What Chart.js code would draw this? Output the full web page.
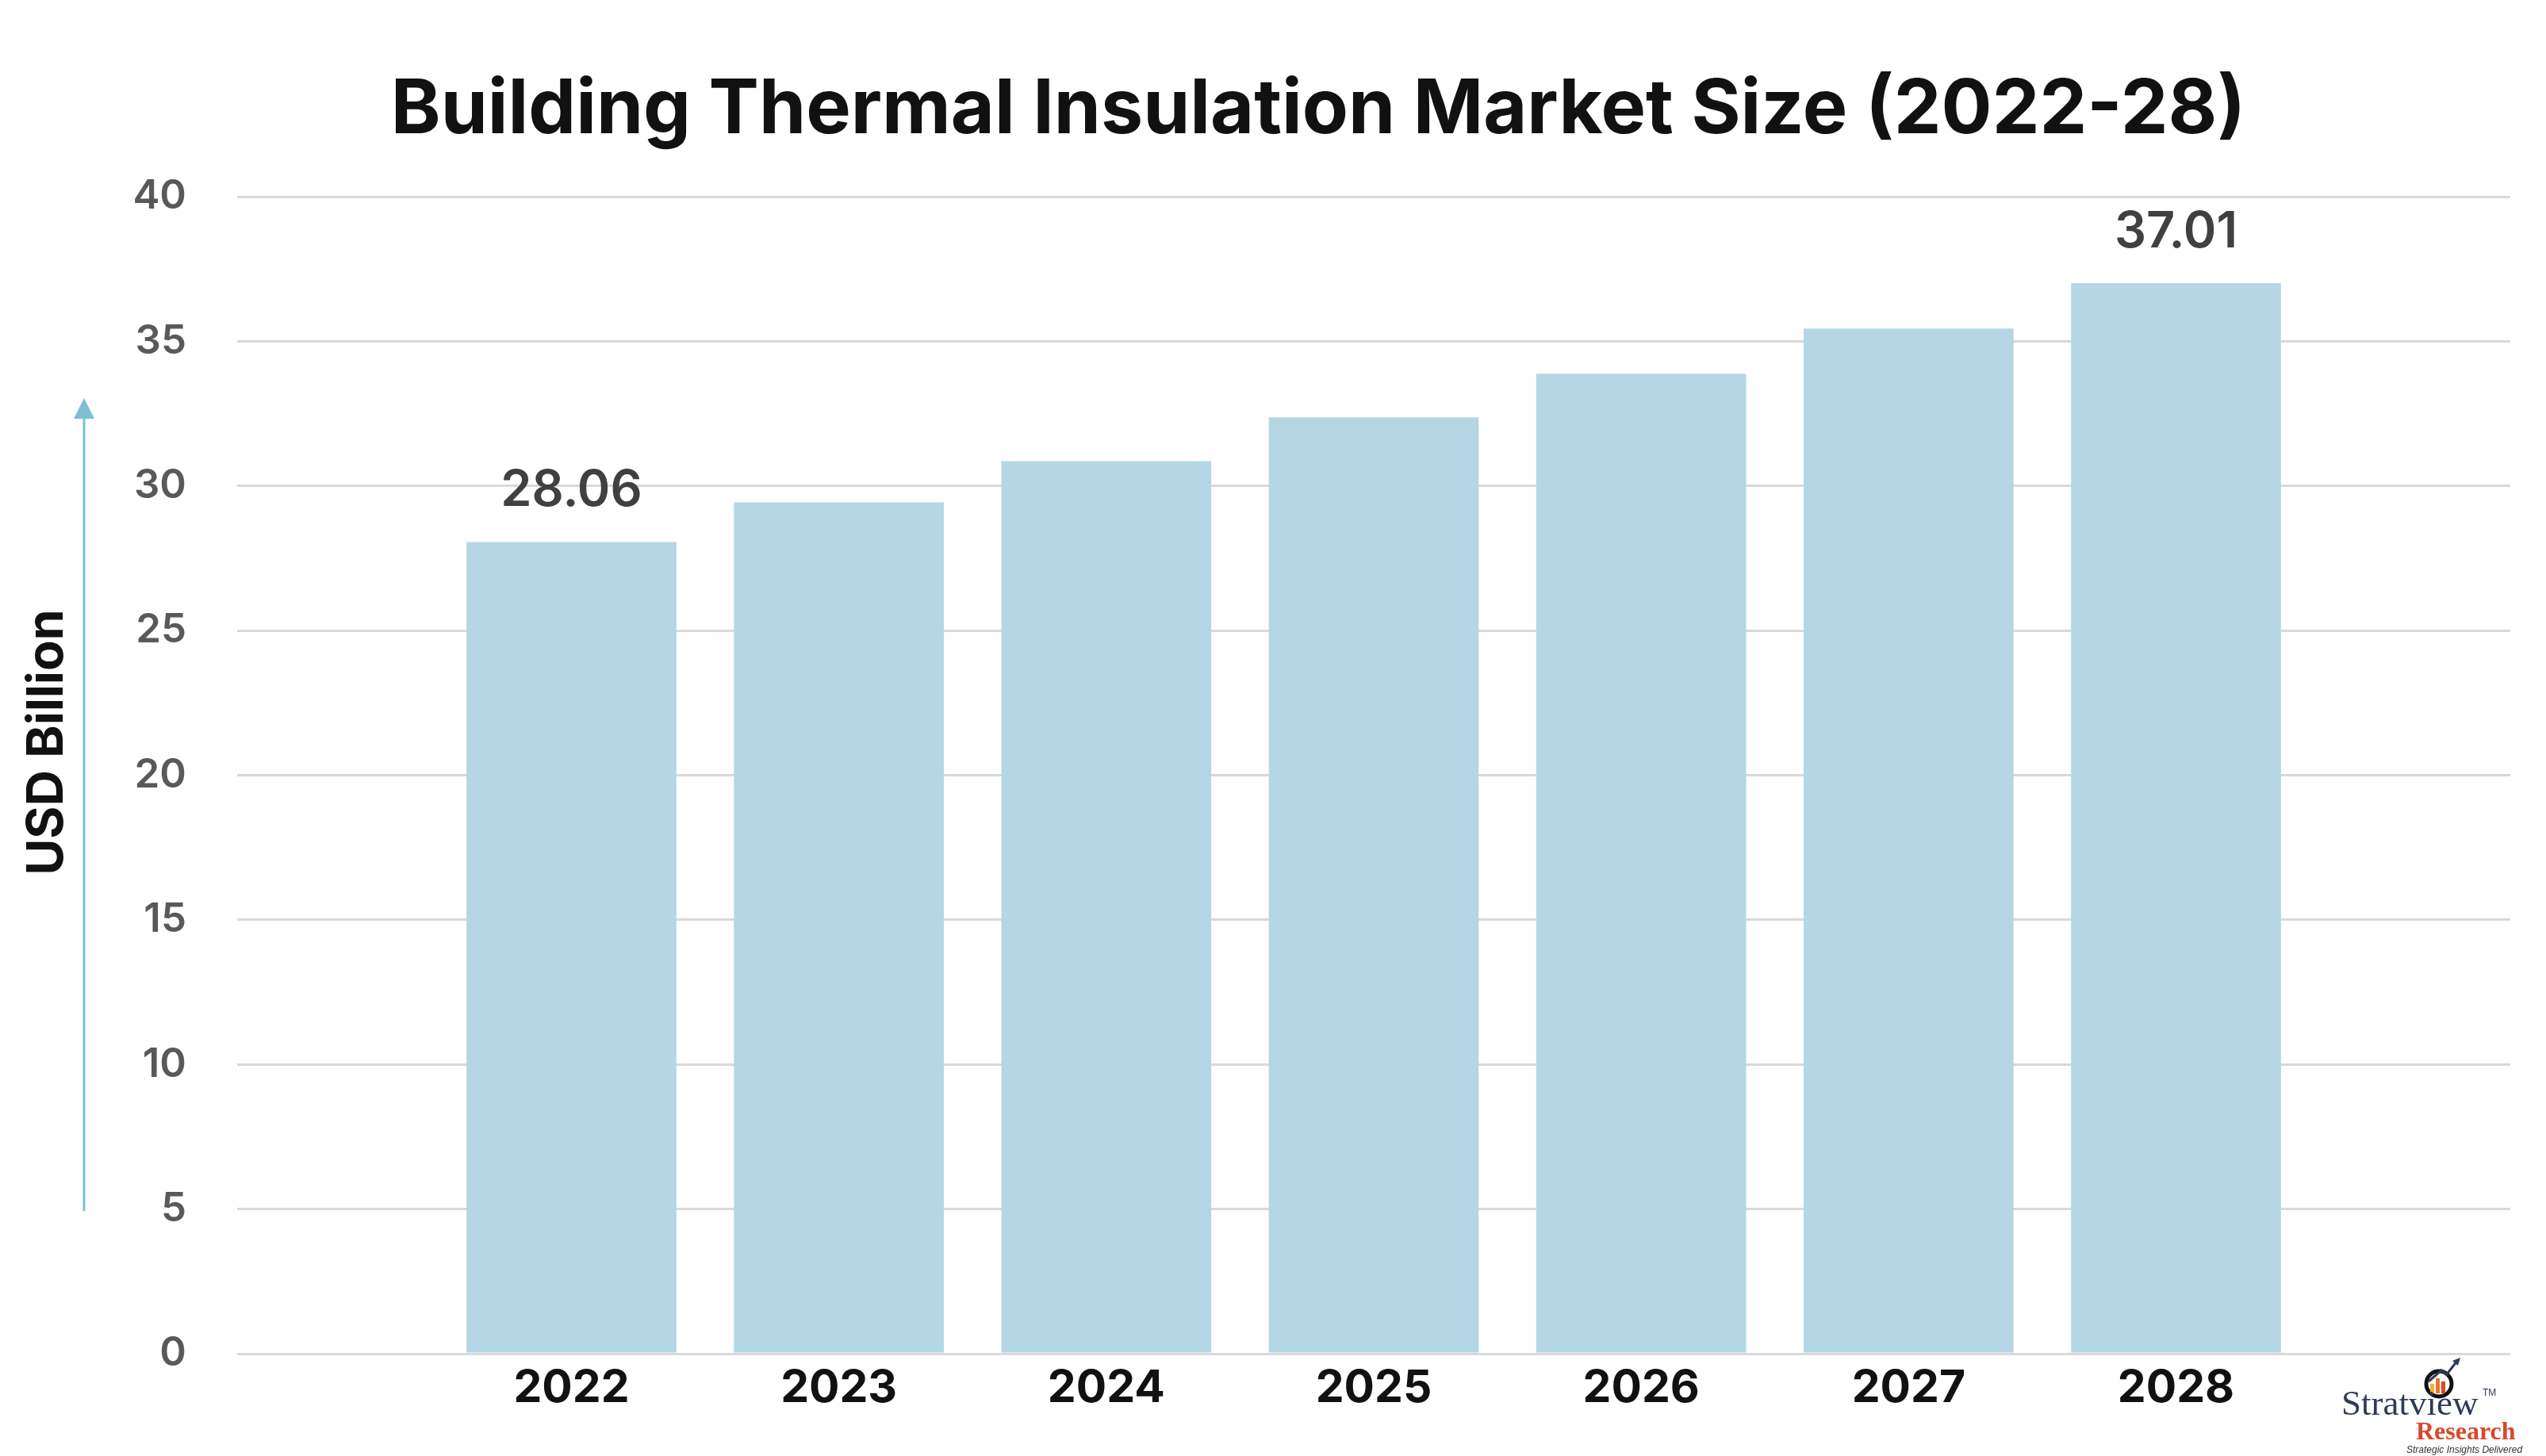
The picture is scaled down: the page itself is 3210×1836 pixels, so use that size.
<!DOCTYPE html>
<html>
<head>
<meta charset="utf-8">
<script src="https://cdn.jsdelivr.net/npm/chart.js@4.4.1/dist/chart.umd.min.js"></script>
<style>
  html, body { margin: 0; padding: 0; background: #ffffff; }
  #wrap { width: 3210px; height: 1836px; }
</style>
</head>
<body>
<div id="wrap"><canvas id="c" width="3210" height="1836"></canvas></div>
<script>
const titleText = 'Building Thermal Insulation Market Size (2022-28)';
const years = ['2022', '2023', '2024', '2025', '2026', '2027', '2028'];
const marketSize = [28.06, 29.43, 30.86, 32.37, 33.88, 35.44, 37.01];
const labelledIndices = [0, 6];
const yTicks = [0, 5, 10, 15, 20, 25, 30, 35, 40];
const yAxisTitle = 'USD Billion';

const decorPlugin = {
  id: 'decor',
  afterDatasetsDraw(chart) {
    const ctx = chart.ctx;
    // title
    ctx.save();
    ctx.font = '700 95px Inter, "Open Sans", sans-serif';
    ctx.fillStyle = '#111111';
    ctx.textAlign = 'center';
    ctx.textBaseline = 'middle';
    ctx.fillText(titleText, 1662, 139);
    ctx.restore();

    // value labels
    const meta = chart.getDatasetMeta(0);
    ctx.save();
    ctx.font = '600 63px Inter, "Open Sans", sans-serif';
    ctx.fillStyle = '#404040';
    ctx.textAlign = 'center';
    ctx.textBaseline = 'middle';
    labelledIndices.forEach(i => {
      const el = meta.data[i];
      ctx.fillText(marketSize[i].toFixed(2), el.x, el.y - 64);
    });
    ctx.restore();

    // y axis title (rotated)
    ctx.save();
    ctx.translate(60, 936);
    ctx.rotate(-Math.PI / 2);
    ctx.font = '700 63px Inter, "Open Sans", sans-serif';
    ctx.fillStyle = '#111111';
    ctx.textAlign = 'center';
    ctx.textBaseline = 'middle';
    ctx.fillText(yAxisTitle, 0, 0);
    ctx.restore();

    // arrow
    ctx.save();
    ctx.strokeStyle = '#7fbdd6';
    ctx.fillStyle = '#7fbdd6';
    ctx.lineWidth = 3;
    ctx.beginPath();
    ctx.moveTo(106, 1527);
    ctx.lineTo(106, 520);
    ctx.stroke();
    ctx.beginPath();
    ctx.moveTo(106, 502);
    ctx.lineTo(93, 528);
    ctx.lineTo(119, 528);
    ctx.closePath();
    ctx.fill();
    ctx.restore();

    // logo
    ctx.save();
    ctx.strokeStyle = '#111';
    ctx.lineWidth = 5;
    ctx.beginPath();
    ctx.arc(3075, 1745, 16, 0, Math.PI * 2);
    ctx.stroke();
    ctx.fillStyle = '#f0b429';
    ctx.fillRect(3064, 1745, 5, 12);
    ctx.fillStyle = '#e8762b';
    ctx.fillRect(3071, 1738, 5, 19);
    ctx.fillStyle = '#d9482b';
    ctx.fillRect(3078, 1742, 5, 15);
    ctx.strokeStyle = '#2e3a59';
    ctx.lineWidth = 3;
    ctx.beginPath();
    ctx.moveTo(3062, 1742);
    ctx.lineTo(3078, 1728);
    ctx.lineTo(3085, 1733);
    ctx.lineTo(3098, 1716);
    ctx.stroke();
    ctx.beginPath();
    ctx.moveTo(3102, 1712);
    ctx.lineTo(3092, 1716);
    ctx.lineTo(3099, 1722);
    ctx.closePath();
    ctx.fillStyle = '#2e3a59';
    ctx.fill();

    ctx.textBaseline = 'alphabetic';
    ctx.textAlign = 'left';
    ctx.font = '45px "Liberation Serif", "DejaVu Serif", serif';
    ctx.fillStyle = '#2e3a59';
    ctx.fillText('Stratview', 2952, 1784);
    ctx.font = '12px "Liberation Sans", sans-serif';
    ctx.fillText('TM', 3130, 1760);
    ctx.font = 'bold 32px "Liberation Serif", "DejaVu Serif", serif';
    ctx.fillStyle = '#d9482b';
    ctx.fillText('Research', 3046, 1815);
    ctx.font = 'italic 12px "Liberation Sans", sans-serif';
    ctx.fillStyle = '#333';
    ctx.fillText('Strategic Insights Delivered', 3034, 1832);
    ctx.restore();
  }
};

const ctx = document.getElementById('c').getContext('2d');
new Chart(ctx, {
  type: 'bar',
  data: {
    datasets: [{
      data: marketSize.map((v, i) => ({ x: i, y: v })),
      backgroundColor: '#b5d7e5',
      borderWidth: 0,
      barPercentage: 0.785,
      categoryPercentage: 1.0
    }]
  },
  options: {
    responsive: false,
    animation: false,
    devicePixelRatio: 1,
    layout: { padding: { left: 0, right: 45, top: 248, bottom: 0 } },
    plugins: {
      legend: { display: false },
      tooltip: { enabled: false },
      title: { display: false }
    },
    scales: {
      x: {
        type: 'linear',
        min: -1.25,
        max: 7.25,
        offset: false,
        grid: { display: false, drawTicks: false },
        border: { display: false },
        afterBuildTicks(axis) { axis.ticks = years.map((_, i) => ({ value: i })); },
        afterFit(axis) { axis.height = 129; },
        ticks: {
          autoSkip: false,
          maxRotation: 0,
          padding: 10,
          color: '#111111',
          font: { family: 'Inter, "Open Sans", sans-serif', size: 57, weight: '700' },
          callback: (v) => years[v] !== undefined ? years[v] : ''
        }
      },
      y: {
        min: 0,
        max: 40,
        afterBuildTicks(axis) { axis.ticks = yTicks.map(v => ({ value: v })); },
        afterFit(axis) { axis.width = 299; },
        grid: { color: '#d9d9d9', lineWidth: 3, drawTicks: false },
        border: { display: false },
        ticks: {
          padding: 64,
          color: '#595959',
          font: { family: 'Inter, "Open Sans", sans-serif', size: 51, weight: '600' }
        }
      }
    }
  },
  plugins: [decorPlugin]
});
</script>
</body>
</html>
